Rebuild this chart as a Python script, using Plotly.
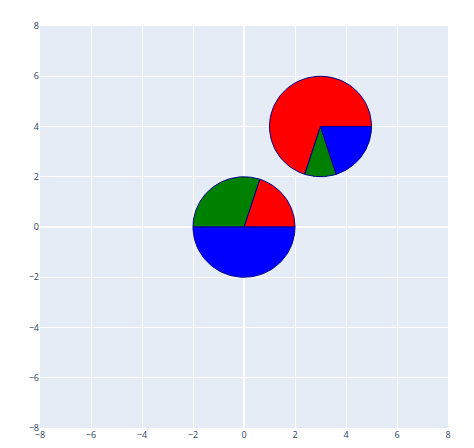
import numpy as np
import plotly.graph_objects as go

# two pies drawn as filled wedges on a plain x/y plane
centers_x = [0, 3]
centers_y = [0, 4]
radii = [2, 2]
fractions = [
    [0.2, 0.3, 0.5],
    [0.7, 0.1, 0.2],
]
wedge_colors = ["red", "green", "blue"]
tick_vals = [-8, -6, -4, -2, 0, 2, 4, 6, 8]


def wedge(cx, cy, r, a0, a1, n=60):
    t = np.linspace(a0, a1, n)
    xs = np.concatenate([[cx], cx + r * np.cos(t), [cx]])
    ys = np.concatenate([[cy], cy + r * np.sin(t), [cy]])
    return xs, ys


fig = go.Figure()
for cx, cy, r, fr in zip(centers_x, centers_y, radii, fractions):
    start = 0.0
    for f, col in zip(fr, wedge_colors):
        end = start + 2 * np.pi * f
        xs, ys = wedge(cx, cy, r, start, end)
        fig.add_trace(
            go.Scatter(
                x=xs,
                y=ys,
                mode="lines",
                fill="toself",
                fillcolor=col,
                line=dict(color="darkblue", width=1),
                hoverinfo="skip",
            )
        )
        start = end

fig.update_layout(
    width=474,
    height=448,
    margin=dict(l=32, r=34, t=11, b=28),
    showlegend=False,
    font=dict(size=9),
    xaxis=dict(range=[-8, 8], tickvals=tick_vals),
    yaxis=dict(range=[-8, 8], tickvals=tick_vals),
)

fig.write_html("out.html")
